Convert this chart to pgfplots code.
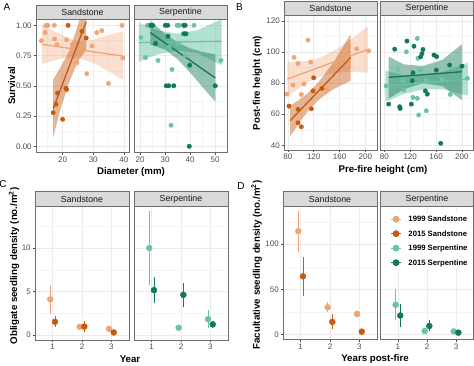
\documentclass[border=0pt]{standalone}
\usepackage{fontspec}
\setmainfont{Liberation Sans}
\usepackage{pgfplots}
\pgfplotsset{compat=1.18}

\definecolor{sandA}{RGB}{240,164,118}
\definecolor{sandB}{RGB}{198,90,18}
\definecolor{serpA}{RGB}{104,196,164}
\definecolor{serpB}{RGB}{18,120,90}
\definecolor{gridc}{RGB}{235,235,235}
\definecolor{gridm}{RGB}{245,245,245}
\definecolor{borderc}{RGB}{110,110,110}
\definecolor{stripc}{RGB}{217,217,217}
\definecolor{tickc}{RGB}{77,77,77}

\newcommand{\tickfont}{\fontsize{8}{9.6}\selectfont}
\newcommand{\stripfont}{\fontsize{8.8}{10}\selectfont}
\newcommand{\titlefont}{\fontsize{9.7}{11}\selectfont\bfseries}
\newcommand{\legfont}{\fontsize{7.7}{9}\selectfont\bfseries}

\pgfplotsset{
  facet/.style={scale only axis, anchor=south west,
    axis line style={borderc, line width=0.6pt},
    grid=both, major grid style={gridc, line width=0.55pt},
    minor grid style={gridm, line width=0.3pt},
    tick align=outside, tick pos=left, major tick length=2.3pt, minor tick length=0pt,
    tick style={tickc, line width=0.5pt},
    ticklabel style={font=\tickfont, text=tickc},
    xticklabel style={inner sep=1.8pt},
    yticklabel style={inner sep=1.8pt},
    clip=true},
  rightfacet/.style={ymajorticks=false},
  pts/.style={only marks, mark=*, mark size=2.2pt, color=#1, mark options={draw=none, fill=#1}, forget plot},
  rib/.style 2 args={draw=none, fill=#1, fill opacity=#2, forget plot},
  fit/.style={draw=#1, line width=1.3pt, no marks, forget plot},
  eb/.style={only marks, mark=*, mark size=3pt, color=#1, mark options={draw=none, fill=#1}, forget plot,
    error bars/.cd, y dir=both, y explicit,
    error bar style={line width=0.7pt, #1},
    error mark options={#1, line width=0.7pt, mark size=1.5pt}},
  cd/.style={xmin=0.4, xmax=3.6, xtick={1,2,3}, xticklabels={1,2,3}},
}

\begin{document}
\begin{tikzpicture}
\useasboundingbox (0,0) rectangle (474pt,365pt);

% ================= A Sandstone
\begin{axis}[facet, at={(36pt,212.7pt)}, width=93pt, height=133pt,
  xmin=11.3, xmax=41.7, ymin=-0.05, ymax=1.05,
  xtick={20,30,40}, xticklabels={20,30,40}, minor xtick={15,25,35},
  ytick={0,0.25,0.5,0.75,1}, yticklabels={0.00,0.25,0.50,0.75,1.00},
  minor ytick={0.125,0.375,0.625,0.875}]
\addplot[rib={sandA}{0.35}] coordinates {(13.2,1.0)(20,0.92)(25,0.86)(30,0.88)(35,0.92)(39.7,0.95)(39.7,0.55)(35,0.62)(30,0.69)(25,0.73)(20,0.73)(13.2,0.68)} -- cycle;
\addplot[rib={sandB}{0.45}] coordinates {(16.9,0.55)(19,0.64)(22,0.78)(25,1.0)(27.7,1.26)(27.7,0.8)(25,0.7)(22,0.52)(19,0.28)(16.9,0.07)} -- cycle;
\addplot[pts=sandA] coordinates {(13.1,0.873)(14.3,0.94)(14.5,1)(15.2,1)(17.3,1)(17.4,0.887)(18.2,0.84)(21.3,0.88)(23.1,0.84)(24.2,0.69)(24.7,0.69)(27.9,0.60)(29.6,0.83)(31.2,0.94)(32.8,0.956)(35,0.52)(39.4,1)(39.7,0.73)};
\addplot[pts=sandB] coordinates {(21.8,1)(26.3,0.95)(27.7,0.895)(18.35,0.44)(21.1,0.48)(21.3,0.47)(17.8,0.347)(16.9,0.278)(20.0,0.223)};
\addplot[fit=sandA] coordinates {(13.2,0.843)(39.7,0.746)};
\addplot[fit=sandB] coordinates {(16.9,0.31)(27.7,1.03)};
\end{axis}

% ================= A Serpentine
\begin{axis}[facet, rightfacet, at={(134pt,212.7pt)}, width=93pt, height=133pt,
  xmin=17.6, xmax=54.8, ymin=-0.05, ymax=1.05,
  xtick={20,30,40,50}, xticklabels={20,30,40,50}, minor xtick={25,35,45},
  ytick={0,0.25,0.5,0.75,1}, yticklabels={}, minor ytick={0.125,0.375,0.625,0.875}]
\addplot[rib={serpA}{0.5}] coordinates {(19.5,1.02)(27,0.96)(35,0.93)(43,0.96)(52.6,1.05)(52.6,0.67)(43,0.77)(35,0.79)(27,0.76)(19.5,0.70)} -- cycle;
\addplot[rib={serpB}{0.45}] coordinates {(24.1,1.04)(30,0.93)(35,0.86)(40,0.81)(45,0.78)(50.1,0.76)(50.1,0.37)(45,0.49)(40,0.61)(35,0.72)(30,0.8)(24.1,0.84)} -- cycle;
\addplot[pts=serpA] coordinates {(20.4,0.90)(22.2,0.733)(22.9,1)(23.6,1)(24.5,1)(27.2,0.71)(31.7,0.82)(32.8,0.636)(32.4,0.174)(34.8,1)(35.7,1)(38.7,0.93)(41.6,1)(38.1,0.752)(52.4,0.71)(35.5,0.85)(37.2,0.93)};
\addplot[pts=serpB] coordinates {(24.3,1)(25.1,1)(26.2,0.85)(30.1,1)(31.1,1)(31.2,0.91)(37.5,1)(38.1,1)(37.7,0.93)(38.3,0.93)(39.9,0.67)(39.7,0)(30.5,0.5)(31.5,0.5)(33.5,0.5)(50.1,0.5)};
\addplot[fit=serpA] coordinates {(19.5,0.857)(52.6,0.868)};
\addplot[fit=serpB] coordinates {(24.1,0.94)(50.1,0.565)};
\end{axis}

% ================= B Sandstone
\begin{axis}[facet, at={(284pt,215pt)}, width=93pt, height=134.3pt,
  xmin=74, xmax=218, ymin=37, ymax=123.3,
  xtick={80,120,160,200}, xticklabels={80,120,160,200}, minor xtick={100,140,180},
  ytick={40,60,80,100,120}, yticklabels={40,60,80,100,120}, minor ytick={50,70,90,110}]
\addplot[rib={sandA}{0.35}] coordinates {(79.2,93.6)(110,94.3)(130,96.3)(150,100.4)(175,107.2)(203.8,116.6)(203.8,86.6)(175,87.2)(150,86.4)(130,84.3)(110,80.3)(79.2,71.6)} -- cycle;
\addplot[rib={sandB}{0.45}] coordinates {(83.4,65.5)(100,70)(115,75)(130,82)(150,93)(177.3,111.5)(177.3,81.5)(150,76)(130,70)(115,64)(100,56)(83.4,45.5)} -- cycle;
\addplot[pts=sandA] coordinates {(78.6,72.9)(89.5,96.5)(95.7,92.6)(87.9,78.7)(105,79.4)(100.8,72.7)(111.2,107.6)(115.3,93.5)(140.6,76)(168,100.7)(186.5,102)(205.1,100.7)};
\addplot[pts=sandB] coordinates {(81.7,65.2)(95.7,63.1)(95.7,54.5)(100.8,51.9)(116.3,63.5)(118.9,75)(120,83.4)(132.8,76.6)};
\addplot[fit=sandA] coordinates {(79.2,82.6)(203.8,101.6)};
\addplot[fit=sandB] coordinates {(83.4,55.8)(177.3,96.5)};
\end{axis}

% ================= B Serpentine
\begin{axis}[facet, rightfacet, at={(380.5pt,215pt)}, width=93pt, height=134.3pt,
  xmin=74, xmax=218, ymin=37, ymax=123.3,
  xtick={80,120,160,200}, xticklabels={80,120,160,200}, minor xtick={100,140,180},
  ytick={40,60,80,100,120}, yticklabels={}, minor ytick={50,70,90,110}]
\addplot[rib={serpA}{0.5}] coordinates {(81.4,88)(110,85)(140,85)(170,87)(209.4,93)(209.4,72)(170,76)(140,76)(110,73)(81.4,68)} -- cycle;
\addplot[rib={serpB}{0.45}] coordinates {(86.7,97)(110,92)(140,91)(170,95)(200.2,105)(200.2,69)(170,78)(140,80)(110,76)(86.7,70)} -- cycle;
\addplot[pts=serpA] coordinates {(82.5,78.1)(101.1,88.8)(108.8,81.9)(110.4,75.5)(114,100.1)(124.3,70.8)(131,108.7)(131,70.2)(133.1,59.5)(132,95.9)(135.6,88.3)(144.9,62.2)(144.9,81.9)(169.7,82.6)(182,72.7)(208.4,83)(124.3,81)};
\addplot[pts=serpB] coordinates {(86.7,66.5)(96,101.8)(103.7,64.8)(104.5,63.7)(115,107)(123.2,81.5)(124.3,86.6)(125.9,103.7)(121.7,66.5)(136.2,96.9)(138.2,98.9)(139.8,101.6)(143.4,75)(146.4,72.9)(156.8,98)(161,97)(160.4,88.3)(181.1,91.6)(200.2,90.9)(167.2,41.3)};
\addplot[fit=serpA] coordinates {(81.4,78.1)(209.4,82.6)};
\addplot[fit=serpB] coordinates {(86.7,83.7)(200.2,87.3)};
\end{axis}

% ================= C Sandstone
\begin{axis}[facet, cd, at={(35pt,25pt)}, width=94pt, height=133.3pt,
  ymin=-0.6, ymax=14.77, ytick={0,5,10}, yticklabels={0,5,10}, minor ytick={2.5,7.5,12.5}]
\addplot[eb=sandA] coordinates {(0.92,4.1) += (0,1.5) -= (0,1.5) (1.92,0.92) += (0,0.15) -= (0,0.15) (2.92,0.69) += (0,0.15) -= (0,0.15)};
\addplot[eb=sandB] coordinates {(1.08,1.5) += (0,0.5) -= (0,0.45) (2.08,0.95) += (0,0.45) -= (0,0.5) (3.08,0.27) += (0,0.15) -= (0,0.15)};
\end{axis}

% ================= C Serpentine
\begin{axis}[facet, cd, rightfacet, at={(134pt,25pt)}, width=94pt, height=133.3pt,
  ymin=-0.6, ymax=14.77, ytick={0,5,10}, yticklabels={}, minor ytick={2.5,7.5,12.5}]
\addplot[eb=serpA] coordinates {(0.92,10.0) += (0,4.1) -= (0,4.1) (1.92,0.81) += (0,0.1) -= (0,0.1) (2.92,1.8) += (0,0.85) -= (0,0.9)};
\addplot[eb=serpB] coordinates {(1.08,5.15) += (0,1.35) -= (0,1.35) (2.08,4.6) += (0,1.2) -= (0,1.25) (3.08,1.2) += (0,0.2) -= (0,0.2)};
\end{axis}

% ================= D Sandstone
\begin{axis}[facet, cd, at={(283pt,25.5pt)}, width=94pt, height=133pt,
  ymin=-5.7, ymax=141.8, ytick={0,50,100}, yticklabels={0,50,100}, minor ytick={25,75,125}]
\addplot[eb=sandA] coordinates {(0.92,114.4) += (0,20.5) -= (0,21.1) (1.92,30) += (0,4) -= (0,4) (2.92,22.6) += (0,2) -= (0,2)};
\addplot[eb=sandB] coordinates {(1.08,64.4) += (0,20) -= (0,20) (2.08,13.8) += (0,7) -= (0,6.7) (3.08,3) += (0,1) -= (0,1)};
\end{axis}

% ================= D Serpentine
\begin{axis}[facet, cd, rightfacet, at={(380.5pt,25.5pt)}, width=93pt, height=133pt,
  ymin=-5.7, ymax=141.8, ytick={0,50,100}, yticklabels={}, minor ytick={25,75,125},
  legend style={at={(0.075,0.955)}, anchor=north west, draw=none, fill=white,
    inner sep=3pt, font=\legfont, row sep=7.5pt,
    nodes={inner sep=0pt, text height=6pt, text depth=1pt}, cells={anchor=west}},
  legend image code/.code={\draw[mark repeat=2, mark phase=2, #1] plot coordinates {(0pt,0pt)(5pt,0pt)(10pt,0pt)};}]
\addlegendimage{color=sandA, line width=0.8pt, mark=*, mark size=3pt}
\addlegendentry{\hspace*{7pt}1999 Sandstone}
\addlegendimage{color=sandB, line width=0.8pt, mark=*, mark size=3pt}
\addlegendentry{\hspace*{7pt}2015 Sandstone}
\addlegendimage{color=serpA, line width=0.8pt, mark=*, mark size=3pt}
\addlegendentry{\hspace*{7pt}1999 Serpentine}
\addlegendimage{color=serpB, line width=0.8pt, mark=*, mark size=3pt}
\addlegendentry{\hspace*{7pt}2015 Serpentine}
\addplot[eb=serpA] coordinates {(0.92,32.8) += (0,15.5) -= (0,15.4) (1.92,3.7) += (0,1) -= (0,1) (2.92,3.3) += (0,1) -= (0,1)};
\addplot[eb=serpB] coordinates {(1.08,20.9) += (0,11.1) -= (0,11.2) (2.08,9.3) += (0,4.5) -= (0,4.4) (3.08,1.9) += (0,0.8) -= (0,0.8)};
\end{axis}

% ================= borders, strips, titles
\begin{scope}[x=1pt, y=-1pt, shift={(0pt,365pt)}]
  \tikzset{bd/.style={draw=borderc, line width=0.6pt}}
  % panel borders
  \draw[bd] (36,19.3) rectangle (129,152.3);
  \draw[bd] (134,19.3) rectangle (227,152.3);
  \draw[bd] (284,15.7) rectangle (377,150);
  \draw[bd] (380.5,15.7) rectangle (473.5,150);
  \draw[bd] (35,206.7) rectangle (129,340);
  \draw[bd] (134,206.7) rectangle (228,340);
  \draw[bd] (283,206.5) rectangle (377,339.5);
  \draw[bd] (380.5,206.5) rectangle (473.5,339.5);
  % strips
  \draw[bd, fill=stripc] (36,5) rectangle (129,19.3);
  \draw[bd, fill=stripc] (134,5) rectangle (227,19.3);
  \draw[bd, fill=stripc] (284,1.5) rectangle (377,15.7);
  \draw[bd, fill=stripc] (380.5,1.5) rectangle (473.5,15.7);
  \draw[bd, fill=stripc] (35,191.7) rectangle (129,206.7);
  \draw[bd, fill=stripc] (134,191.7) rectangle (228,206.7);
  \draw[bd, fill=stripc] (283,191.5) rectangle (377,206.5);
  \draw[bd, fill=stripc] (380.5,191.5) rectangle (473.5,206.5);
  \tikzset{st/.style={font=\stripfont, text=black!90, inner sep=0pt}}
  \node[st] at (82.5,12.2) {Sandstone};
  \node[st] at (180.5,12.2) {Serpentine};
  \node[st] at (330.5,8.6) {Sandstone};
  \node[st] at (427,8.6) {Serpentine};
  \node[st] at (82,199.2) {Sandstone};
  \node[st] at (181,199.2) {Serpentine};
  \node[st] at (330,199) {Sandstone};
  \node[st] at (427,199) {Serpentine};
  % axis titles
  \tikzset{tt/.style={font=\titlefont, inner sep=0pt}}
  \node[tt, rotate=90] at (11.7,85.7) {Survival};
  \node[tt] at (131,172) {Diameter (mm)};
  \node[tt, rotate=90] at (257.5,83) {Post-fire height (cm)};
  \node[tt] at (383,170) {Pre-fire height (cm)};
  \node[tt, rotate=90] at (14,266) {Obligate seedling density (no./m\textsuperscript{2})};
  \node[tt] at (130,359) {Year};
  \node[tt, rotate=90] at (256.7,265) {Facultative seedling density (no./m\textsuperscript{2})};
  \node[tt] at (375,359) {Years post-fire};
  % panel letters
  \tikzset{pl/.style={font=\fontsize{10}{12}\selectfont, inner sep=0pt}}
  \node[pl] at (7,7.5) {A};
  \node[pl] at (239.5,7.5) {B};
  \node[pl] at (3,184.5) {C};
  \node[pl] at (241,186) {D};
\end{scope}
\end{tikzpicture}
\end{document}
